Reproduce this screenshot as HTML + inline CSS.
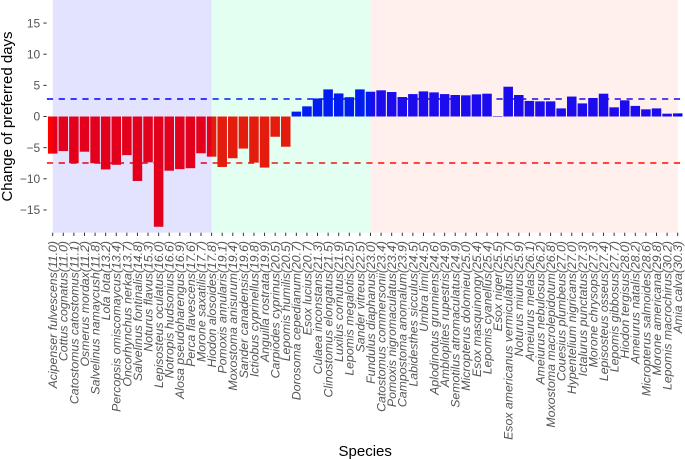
<!DOCTYPE html>
<html>
<head>
<meta charset="utf-8">
<title>Change of preferred days by species</title>
<style>
html,body{margin:0;padding:0;background:#fff;}
svg{display:block;font-family:"Liberation Sans",Arial,sans-serif;}
</style>
</head>
<body>
<svg id="chart" xmlns="http://www.w3.org/2000/svg" width="685" height="459" viewBox="0 0 685 459">
<rect x="0" y="0" width="685" height="459" fill="#ffffff"/>
<g id="refs"></g>
<g id="bars"></g>
<g id="regions"></g>
<g id="yaxis"></g>
<g id="xaxis"></g>
<text transform="translate(12,116.5) rotate(-90)" text-anchor="middle" font-size="15" fill="#000">Change of preferred days</text>
<text x="365.2" y="456" text-anchor="middle" font-size="15" fill="#000">Species</text>
</svg>
<script>
const species = ["Acipenser fulvescens","Cottus cognatus","Catostomus catostomus","Osmerus mordax","Salvelinus namaycush","Lota lota","Percopsis omiscomaycus","Oncorhynchus nerka","Salvelinus fontinalis","Noturus flavus","Lepisosteus oculatus","Notropis hudsonius","Alosa pseudoharengus","Perca flavescens","Morone saxatilis","Hiodon alosoides","Pomoxis annularis","Moxostoma anisurum","Sander canadensis","Ictiobus cyprinellus","Anguilla rostrata","Carpiodes cyprinus","Lepomis humilis","Dorosoma cepedianum","Esox lucius","Culaea inconstans","Clinostomus elongatus","Luxilus cornutus","Lepomis megalotis","Sander vitreus","Fundulus diaphanus","Catostomus commersonii","Pomoxis nigromaculatus","Campostoma anomalum","Labidesthes sicculus","Umbra limi","Aplodinotus grunniens","Ambloplites rupestris","Semotilus atromaculatus","Micropterus dolomieu","Esox masquinongy","Lepomis cyanellus","Esox niger","Esox americanus vermiculatus","Noturus miurus","Ameiurus melas","Ameiurus nebulosus","Moxostoma macrolepidotum","Couesius plumbeus","Hypentelium nigricans","Ictalurus punctatus","Morone chrysops","Lepisosteus osseus","Lepomis gibbosus","Hiodon tergisus","Ameiurus natalis","Micropterus salmoides","Morone americana","Lepomis macrochirus","Amia calva"];
const temperatures = [11.0,11.0,11.1,11.2,11.8,13.2,13.4,13.7,14.8,15.3,16.0,16.6,16.9,17.6,17.7,17.8,19.1,19.4,19.6,19.8,19.9,20.5,20.5,20.7,20.7,21.3,21.5,21.9,22.5,22.5,23.0,23.4,23.4,23.9,24.5,24.5,24.6,24.9,24.9,25.0,25.4,25.4,25.5,25.7,25.9,26.1,26.2,26.8,27.0,27.0,27.3,27.3,27.4,27.7,28.0,28.2,28.6,29.8,30.2,30.3];
const changeDays = [-5.96,-5.55,-7.5,-5.65,-7.5,-8.5,-7.75,-6.2,-10.35,-7.35,-17.7,-8.7,-8.45,-8.3,-5.9,-6.45,-8.1,-6.7,-5.15,-7.4,-8.2,-3.25,-4.85,0.78,1.63,2.9,4.35,3.7,3.1,4.35,3.98,4.2,3.93,3.13,3.6,4.03,3.87,3.6,3.45,3.4,3.55,3.66,0.08,4.78,3.45,2.5,2.43,2.43,1.3,3.2,2.1,2.97,3.66,1.47,2.6,1.7,1.15,1.3,0.45,0.5];
const yTicks = [15,10,5,0,-5,-10,-15];
const meanWarm = 2.8;
const meanCold = -7.46;
const regionNames = ["cold-water-region","cool-water-region","warm-water-region"];
const regionStart = ["Acipenser fulvescens","Hiodon alosoides","Fundulus diaphanus"];
const regionEnd = ["Hiodon alosoides","Fundulus diaphanus","Amia calva"];
const regionColor = ["rgb(0,0,255)","rgb(0,255,128)","rgb(255,110,90)"];

const NS = "http://www.w3.org/2000/svg";
const panelTop = 0, panelBottom = 232.7;
function xPos(i){ return 52.7 + i * 10.593; }
function yPos(v){ return 116.5 - v * 6.23; }
function make(parent, tag, attrs, txt){
  const el = document.createElementNS(NS, tag);
  for (const k in attrs) el.setAttribute(k, attrs[k]);
  if (txt !== undefined) el.textContent = txt;
  parent.appendChild(el);
  return el;
}
const slug = s => s.toLowerCase().replace(/[^a-z]+/g, '-');

const refs = document.getElementById('refs');
const lineX1 = xPos(0) - 5.8, lineX2 = xPos(species.length - 1) + 5;
const warmLine = make(refs, 'line', {x1:lineX1, x2:lineX2, y1:yPos(meanWarm), y2:yPos(meanWarm), stroke:'#0000ff', 'stroke-width':1.5, 'stroke-dasharray':'6.2 5.63'});


const coldLine = make(refs, 'line', {x1:lineX1, x2:lineX2, y1:yPos(meanCold), y2:yPos(meanCold), stroke:'#ff0000', 'stroke-width':1.5, 'stroke-dasharray':'6.2 5.63'});



const barsG = document.getElementById('bars');
const barW = 9.53;
changeDays.forEach((v, i) => {
  const y0 = yPos(0), y1 = yPos(v);
  const r = make(barsG, 'rect', {x:xPos(i) - barW/2, y:Math.min(y0,y1), width:barW, height:Math.abs(y1-y0), fill: v < 0 ? '#ff0000' : '#0000ff'});
  
  
});

const regionsG = document.getElementById('regions');
regionNames.forEach((n, k) => {
  const a = xPos(species.indexOf(regionStart[k])), b = xPos(species.indexOf(regionEnd[k]));
  const r = make(regionsG, 'rect', {x:a, y:panelTop, width:b-a, height:panelBottom-panelTop, fill:regionColor[k], 'fill-opacity':0.11});
  
  
});

const yG = document.getElementById('yaxis');
yTicks.forEach(t => {
  const y = yPos(t);
  const tick = make(yG, 'line', {x1:43.4, x2:46.7, y1:y, y2:y, stroke:'#333333', 'stroke-width':1});
  
  
  const lab = make(yG, 'text', {x:40.2, y:y+4.2, 'text-anchor':'end', 'font-size':12, fill:'#555555'}, String(t).replace('-', '\u2212'));
  
  
});

const xG = document.getElementById('xaxis');
species.forEach((s, i) => {
  const x = xPos(i);
  const tick = make(xG, 'line', {x1:x, x2:x, y1:panelBottom, y2:236, stroke:'#333333', 'stroke-width':1});
  
  
  const lab = make(xG, 'text', {transform:'translate(' + (x + 4.4) + ',241) rotate(-90)', 'text-anchor':'end', 'font-size':12.3, 'font-style':'italic', fill:'#555555'}, s + '(' + temperatures[i].toFixed(1) + ')');
  
  
});
</script>
</body>
</html>
